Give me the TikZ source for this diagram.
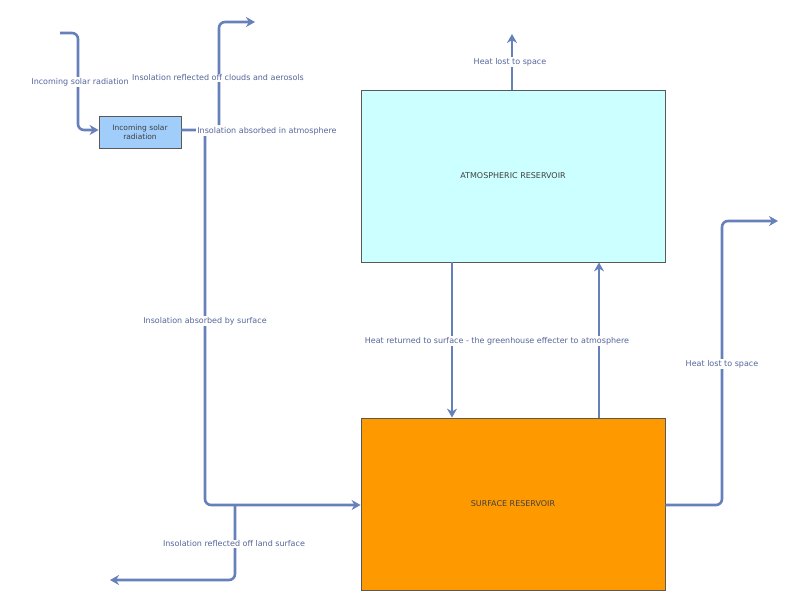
\documentclass[tikz,border=0pt]{standalone}
\usepackage{fontspec}
\setmainfont{DejaVu Sans}
\usetikzlibrary{arrows.meta}
\definecolor{ar}{HTML}{6680BB}
\definecolor{tx}{HTML}{55669A}
\begin{document}
\begin{tikzpicture}[x=1pt,y=-1pt,
  box/.style={draw=black!65,line width=0.8pt,inner sep=0pt,font=\fontsize{8}{9}\selectfont,text=black!75},
  flow/.style={draw=ar,line width=2.6pt,rounded corners=6pt,-{Stealth[length=9pt,width=10pt]}},
  lab/.style={fill=white,inner sep=1pt,text=tx,font=\fontsize{8}{9}\selectfont}]
\useasboundingbox (0,0) rectangle (800,600);
\node[box,fill={rgb,255:red,204;green,255;blue,255},minimum width=304pt,minimum height=172pt] (atm) at (513,176) {ATMOSPHERIC RESERVOIR};
\node[box,fill={rgb,255:red,255;green,153;blue,0},minimum width=304pt,minimum height=172pt] (sur) at (513,504) {SURFACE RESERVOIR};
\node[box,fill={rgb,255:red,160;green,205;blue,250},minimum width=82pt,minimum height=32pt,align=center,font=\fontsize{7.5}{9}\selectfont] (sol) at (140,132) {Incoming solar\\radiation};
\coordinate (s1) at (60,33);
\coordinate (r1) at (219,125);
\coordinate (r2) at (255,22);
\coordinate (a1) at (512,34);
\coordinate (g1) at (778,221);
\coordinate (l0) at (235,506);
\coordinate (l1) at (110,580);
\draw[flow] (s1) -| (78,130) -- (sol.west|-0,130);
\draw[flow] (sol.east|-0,130) -| (205,505) -- (sur.west|-0,505);
\draw[flow] (r1) |- (r2);
\draw[flow] (atm.north-|a1) -- (a1);
\draw[flow] (atm.south-|452,0) -- (sur.north-|452,0);
\draw[flow] (sur.north-|599,0) -- (atm.south-|599,0);
\draw[flow] (sur.east|-0,505) -| (722,221) -- (g1);
\draw[flow] (l0) |- (l1);
\node[lab] (t1) at (80,82) {Incoming solar radiation};
\node[lab] (t2) at (218,78) {Insolation reflected off clouds and aerosols};
\node[lab] (t3) at (267,131) {Insolation absorbed in atmosphere};
\node[lab] (t4) at (205,321) {Insolation absorbed by surface};
\node[lab] (t5) at (510,62) {Heat lost to space};
\node[lab] (t6) at (497,341) {Heat returned to surface - the greenhouse effecter to atmosphere};
\node[lab] (t7) at (722,364) {Heat lost to space};
\node[lab] (t8) at (234,544) {Insolation reflected off land surface};
\end{tikzpicture}
\end{document}
